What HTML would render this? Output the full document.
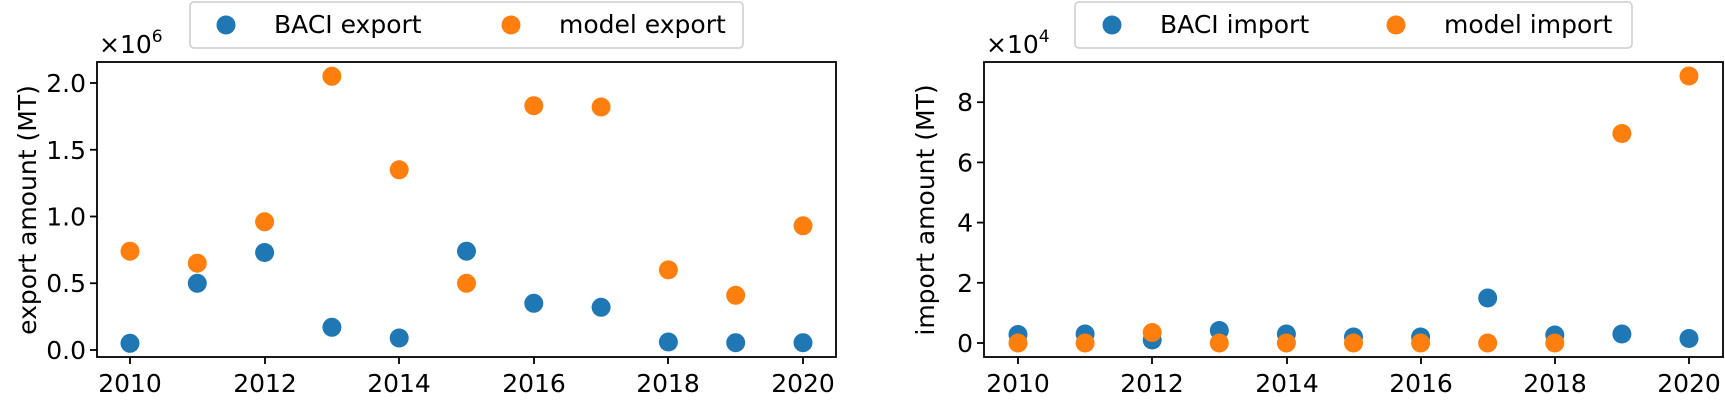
<!DOCTYPE html>
<html><head><meta charset="utf-8"><style>
html,body{margin:0;padding:0;background:#fff}
text{font-family:"DejaVu Sans","Liberation Sans",sans-serif;fill:#000}
circle{r:9.5}
</style></head><body>
<svg width="1725" height="395" viewBox="0 0 1725 395" xmlns="http://www.w3.org/2000/svg">
<rect width="1725" height="395" fill="#fff"/>
<g id="L">
<rect x="97" y="62" width="739" height="295" fill="none" stroke="#000" stroke-width="1.8"/>
<g stroke="#000" stroke-width="1.8">
<line x1="130" y1="357" x2="130" y2="364"/><line x1="265" y1="357" x2="265" y2="364"/><line x1="399" y1="357" x2="399" y2="364"/><line x1="534" y1="357" x2="534" y2="364"/><line x1="668" y1="357" x2="668" y2="364"/><line x1="803" y1="357" x2="803" y2="364"/>
<line x1="90" y1="350" x2="97" y2="350"/><line x1="90" y1="283.25" x2="97" y2="283.25"/><line x1="90" y1="216.5" x2="97" y2="216.5"/><line x1="90" y1="149.75" x2="97" y2="149.75"/><line x1="90" y1="83" x2="97" y2="83"/>
</g>
<g font-size="25" text-anchor="middle">
<text x="130" y="392">2010</text><text x="265" y="392">2012</text><text x="399" y="392">2014</text><text x="534" y="392">2016</text><text x="668" y="392">2018</text><text x="803" y="392">2020</text>
</g>
<g font-size="25" text-anchor="end">
<text x="86" y="359">0.0</text><text x="86" y="292">0.5</text><text x="86" y="225.5">1.0</text><text x="86" y="159">1.5</text><text x="86" y="92">2.0</text>
</g>
<text x="99" y="53" font-size="25">×10<tspan font-size="17" dy="-11">6</tspan></text>
<text transform="translate(36,210) rotate(-90)" font-size="25" text-anchor="middle">export amount (MT)</text>
<g fill="#1f77b4">
<circle cx="130" cy="343.3" r="9.5"/><circle cx="197.3" cy="283.3" r="9.5"/><circle cx="264.6" cy="252.5" r="9.5"/><circle cx="331.9" cy="327.3" r="9.5"/><circle cx="399.2" cy="338" r="9.5"/><circle cx="466.5" cy="251.2" r="9.5"/><circle cx="533.8" cy="303.3" r="9.5"/><circle cx="601.1" cy="307.3" r="9.5"/><circle cx="668.4" cy="342" r="9.5"/><circle cx="735.7" cy="342.7" r="9.5"/><circle cx="803" cy="342.7" r="9.5"/>
</g>
<g fill="#ff7f0e">
<circle cx="130" cy="251.2" r="9.5"/><circle cx="197.3" cy="263.2" r="9.5"/><circle cx="264.6" cy="221.8" r="9.5"/><circle cx="331.9" cy="76.3" r="9.5"/><circle cx="399.2" cy="169.8" r="9.5"/><circle cx="466.5" cy="283.3" r="9.5"/><circle cx="533.8" cy="105.7" r="9.5"/><circle cx="601.1" cy="107" r="9.5"/><circle cx="668.4" cy="269.9" r="9.5"/><circle cx="735.7" cy="295.3" r="9.5"/><circle cx="803" cy="225.8" r="9.5"/>
</g>
<rect x="190" y="2" width="553" height="46" rx="4" fill="#fff" stroke="#ccc" stroke-width="1.5"/>
<circle cx="226" cy="25" r="9.5" fill="#1f77b4"/><text x="274" y="33" font-size="25">BACI export</text>
<circle cx="511" cy="25" r="9.5" fill="#ff7f0e"/><text x="559" y="33" font-size="25">model export</text>
</g>
<g id="R">
<rect x="984" y="62" width="739" height="295" fill="none" stroke="#000" stroke-width="1.8"/>
<g stroke="#000" stroke-width="1.8">
<line x1="1018" y1="357" x2="1018" y2="364"/><line x1="1152" y1="357" x2="1152" y2="364"/><line x1="1287" y1="357" x2="1287" y2="364"/><line x1="1421" y1="357" x2="1421" y2="364"/><line x1="1555" y1="357" x2="1555" y2="364"/><line x1="1689" y1="357" x2="1689" y2="364"/>
<line x1="977" y1="343" x2="984" y2="343"/><line x1="977" y1="282.8" x2="984" y2="282.8"/><line x1="977" y1="222.6" x2="984" y2="222.6"/><line x1="977" y1="162.4" x2="984" y2="162.4"/><line x1="977" y1="102.2" x2="984" y2="102.2"/>
</g>
<g font-size="25" text-anchor="middle">
<text x="1018" y="392">2010</text><text x="1152" y="392">2012</text><text x="1287" y="392">2014</text><text x="1421" y="392">2016</text><text x="1555" y="392">2018</text><text x="1689" y="392">2020</text>
</g>
<g font-size="25" text-anchor="end">
<text x="973" y="352">0</text><text x="973" y="292">2</text><text x="973" y="231.5">4</text><text x="973" y="171.5">6</text><text x="973" y="111">8</text>
</g>
<text x="986" y="53" font-size="25">×10<tspan font-size="17" dy="-11">4</tspan></text>
<text transform="translate(934,210) rotate(-90)" font-size="25" text-anchor="middle">import amount (MT)</text>
<g fill="#1f77b4">
<circle cx="1018" cy="334.5" r="9.5"/><circle cx="1085.1" cy="334" r="9.5"/><circle cx="1152.2" cy="340" r="9.5"/><circle cx="1219.3" cy="330.5" r="9.5"/><circle cx="1286.4" cy="334" r="9.5"/><circle cx="1353.5" cy="337" r="9.5"/><circle cx="1420.6" cy="337" r="9.5"/><circle cx="1487.7" cy="298" r="9.5"/><circle cx="1554.8" cy="335" r="9.5"/><circle cx="1621.9" cy="334" r="9.5"/><circle cx="1689" cy="338.5" r="9.5"/>
</g>
<g fill="#ff7f0e">
<circle cx="1018" cy="343" r="9.5"/><circle cx="1085.1" cy="343" r="9.5"/><circle cx="1152.2" cy="332.5" r="9.5"/><circle cx="1219.3" cy="343" r="9.5"/><circle cx="1286.4" cy="343" r="9.5"/><circle cx="1353.5" cy="343" r="9.5"/><circle cx="1420.6" cy="343" r="9.5"/><circle cx="1487.7" cy="343" r="9.5"/><circle cx="1554.8" cy="343" r="9.5"/><circle cx="1621.9" cy="133.5" r="9.5"/><circle cx="1689" cy="76" r="9.5"/>
</g>
<rect x="1075" y="2" width="557" height="46" rx="4" fill="#fff" stroke="#ccc" stroke-width="1.5"/>
<circle cx="1112" cy="25" r="9.5" fill="#1f77b4"/><text x="1160" y="33" font-size="25">BACI import</text>
<circle cx="1396" cy="25" r="9.5" fill="#ff7f0e"/><text x="1444" y="33" font-size="25">model import</text>
</g>
</svg>
</body></html>
